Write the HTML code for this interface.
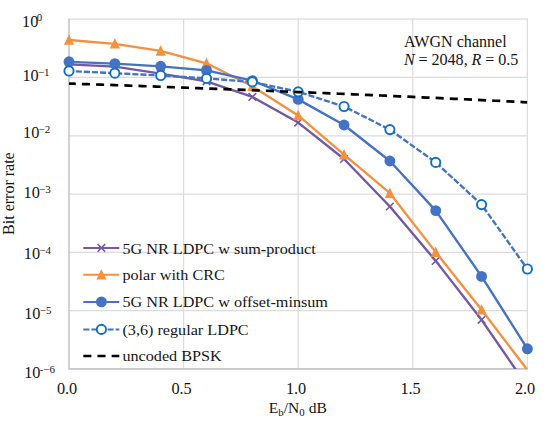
<!DOCTYPE html>
<html><head><meta charset="utf-8"><style>
html,body{margin:0;padding:0;background:#fff;}
svg{display:block;}
svg{font-size:16.3px;}
text{font-family:"Liberation Serif",serif;fill:#151515;}
</style></head><body>
<svg width="550" height="424" viewBox="0 0 550 424">
<defs><clipPath id="clip"><rect x="69" y="19.2" width="458.4" height="349.70"/></clipPath></defs>
<g stroke="#DCDCDC" stroke-width="1.25" fill="none">
<line x1="68.4" y1="19.20" x2="528.0" y2="19.20"/>
<line x1="68.4" y1="77.48" x2="528.0" y2="77.48"/>
<line x1="68.4" y1="135.77" x2="528.0" y2="135.77"/>
<line x1="68.4" y1="194.05" x2="528.0" y2="194.05"/>
<line x1="68.4" y1="252.33" x2="528.0" y2="252.33"/>
<line x1="68.4" y1="310.62" x2="528.0" y2="310.62"/>
<line x1="183.60" y1="18.60" x2="183.60" y2="368.90"/>
<line x1="298.20" y1="18.60" x2="298.20" y2="368.90"/>
<line x1="412.80" y1="18.60" x2="412.80" y2="368.90"/>
<line x1="527.40" y1="18.60" x2="527.40" y2="368.90"/>
</g>
<path d="M69,18.60 V368.90 H528.0" stroke="#C6C6C6" stroke-width="1.6" fill="none"/>
<polyline clip-path="url(#clip)" points="69.00,64.30 114.84,66.60 160.68,73.60 206.52,81.30 252.36,96.90 298.20,122.60 344.04,159.00 389.88,206.50 435.72,260.90 481.56,319.80 527.40,386.50" fill="none" stroke="#7458A6" stroke-width="2.35" stroke-linejoin="round"/>
<path d="M65.20,60.50 L72.80,68.10 M72.80,60.50 L65.20,68.10" stroke="#7458A6" stroke-width="1.6" fill="none"/>
<path d="M111.04,62.80 L118.64,70.40 M118.64,62.80 L111.04,70.40" stroke="#7458A6" stroke-width="1.6" fill="none"/>
<path d="M156.88,69.80 L164.48,77.40 M164.48,69.80 L156.88,77.40" stroke="#7458A6" stroke-width="1.6" fill="none"/>
<path d="M202.72,77.50 L210.32,85.10 M210.32,77.50 L202.72,85.10" stroke="#7458A6" stroke-width="1.6" fill="none"/>
<path d="M248.56,93.10 L256.16,100.70 M256.16,93.10 L248.56,100.70" stroke="#7458A6" stroke-width="1.6" fill="none"/>
<path d="M294.40,118.80 L302.00,126.40 M302.00,118.80 L294.40,126.40" stroke="#7458A6" stroke-width="1.6" fill="none"/>
<path d="M340.24,155.20 L347.84,162.80 M347.84,155.20 L340.24,162.80" stroke="#7458A6" stroke-width="1.6" fill="none"/>
<path d="M386.08,202.70 L393.68,210.30 M393.68,202.70 L386.08,210.30" stroke="#7458A6" stroke-width="1.6" fill="none"/>
<path d="M431.92,257.10 L439.52,264.70 M439.52,257.10 L431.92,264.70" stroke="#7458A6" stroke-width="1.6" fill="none"/>
<path d="M477.76,316.00 L485.36,323.60 M485.36,316.00 L477.76,323.60" stroke="#7458A6" stroke-width="1.6" fill="none"/>
<polyline clip-path="url(#clip)" points="69.00,40.00 114.84,43.80 160.68,50.90 206.52,63.30 252.36,86.30 298.20,115.40 344.04,154.70 389.88,193.20 435.72,252.10 481.56,309.80 527.40,370.00" fill="none" stroke="#F5903E" stroke-width="2.35" stroke-linejoin="round"/>
<path d="M69.00,34.40 L74.10,44.80 L63.90,44.80 Z" fill="#F5903E"/>
<path d="M114.84,38.20 L119.94,48.60 L109.74,48.60 Z" fill="#F5903E"/>
<path d="M160.68,45.30 L165.78,55.70 L155.58,55.70 Z" fill="#F5903E"/>
<path d="M206.52,57.70 L211.62,68.10 L201.42,68.10 Z" fill="#F5903E"/>
<path d="M252.36,80.70 L257.46,91.10 L247.26,91.10 Z" fill="#F5903E"/>
<path d="M298.20,109.80 L303.30,120.20 L293.10,120.20 Z" fill="#F5903E"/>
<path d="M344.04,149.10 L349.14,159.50 L338.94,159.50 Z" fill="#F5903E"/>
<path d="M389.88,187.60 L394.98,198.00 L384.78,198.00 Z" fill="#F5903E"/>
<path d="M435.72,246.50 L440.82,256.90 L430.62,256.90 Z" fill="#F5903E"/>
<path d="M481.56,304.20 L486.66,314.60 L476.46,314.60 Z" fill="#F5903E"/>
<polyline clip-path="url(#clip)" points="69.00,61.80 114.84,63.60 160.68,66.30 206.52,70.40 252.36,80.60 298.20,99.40 344.04,125.00 389.88,161.00 435.72,210.60 481.56,276.40 527.40,348.80" fill="none" stroke="#4472C4" stroke-width="2.35" stroke-linejoin="round"/>
<circle cx="69.00" cy="61.80" r="5.45" fill="#4472C4"/>
<circle cx="114.84" cy="63.60" r="5.45" fill="#4472C4"/>
<circle cx="160.68" cy="66.30" r="5.45" fill="#4472C4"/>
<circle cx="206.52" cy="70.40" r="5.45" fill="#4472C4"/>
<circle cx="252.36" cy="80.60" r="5.45" fill="#4472C4"/>
<circle cx="298.20" cy="99.40" r="5.45" fill="#4472C4"/>
<circle cx="344.04" cy="125.00" r="5.45" fill="#4472C4"/>
<circle cx="389.88" cy="161.00" r="5.45" fill="#4472C4"/>
<circle cx="435.72" cy="210.60" r="5.45" fill="#4472C4"/>
<circle cx="481.56" cy="276.40" r="5.45" fill="#4472C4"/>
<circle cx="527.40" cy="348.80" r="5.45" fill="#4472C4"/>
<polyline clip-path="url(#clip)" points="69.00,71.00 114.84,73.20 160.68,75.50 206.52,78.40 252.36,81.90 298.20,91.80 344.04,106.50 389.88,129.60 435.72,162.40 481.56,204.60 527.40,269.00" fill="none" stroke="#4472C4" stroke-width="2.35" stroke-dasharray="6.07,2.02" stroke-dashoffset="1.3" stroke-linejoin="round"/>
<circle cx="69.00" cy="71.00" r="4.6" fill="#fff" stroke="#0E6FC4" stroke-width="1.9"/>
<circle cx="114.84" cy="73.20" r="4.6" fill="#fff" stroke="#0E6FC4" stroke-width="1.9"/>
<circle cx="160.68" cy="75.50" r="4.6" fill="#fff" stroke="#0E6FC4" stroke-width="1.9"/>
<circle cx="206.52" cy="78.40" r="4.6" fill="#fff" stroke="#0E6FC4" stroke-width="1.9"/>
<circle cx="252.36" cy="81.90" r="4.6" fill="#fff" stroke="#0E6FC4" stroke-width="1.9"/>
<circle cx="298.20" cy="91.80" r="4.6" fill="#fff" stroke="#0E6FC4" stroke-width="1.9"/>
<circle cx="344.04" cy="106.50" r="4.6" fill="#fff" stroke="#0E6FC4" stroke-width="1.9"/>
<circle cx="389.88" cy="129.60" r="4.6" fill="#fff" stroke="#0E6FC4" stroke-width="1.9"/>
<circle cx="435.72" cy="162.40" r="4.6" fill="#fff" stroke="#0E6FC4" stroke-width="1.9"/>
<circle cx="481.56" cy="204.60" r="4.6" fill="#fff" stroke="#0E6FC4" stroke-width="1.9"/>
<circle cx="527.40" cy="269.00" r="4.6" fill="#fff" stroke="#0E6FC4" stroke-width="1.9"/>
<polyline clip-path="url(#clip)" points="69.00,83.56 73.58,83.72 78.17,83.87 82.75,84.03 87.34,84.18 91.92,84.34 96.50,84.50 101.09,84.65 105.67,84.81 110.26,84.97 114.84,85.13 119.42,85.29 124.01,85.45 128.59,85.61 133.18,85.77 137.76,85.94 142.34,86.10 146.93,86.26 151.51,86.43 156.10,86.59 160.68,86.76 165.26,86.92 169.85,87.09 174.43,87.26 179.02,87.43 183.60,87.60 188.18,87.77 192.77,87.94 197.35,88.11 201.94,88.28 206.52,88.45 211.10,88.62 215.69,88.80 220.27,88.97 224.86,89.14 229.44,89.32 234.02,89.50 238.61,89.67 243.19,89.85 247.78,90.03 252.36,90.21 256.94,90.39 261.53,90.57 266.11,90.75 270.70,90.93 275.28,91.11 279.86,91.29 284.45,91.48 289.03,91.66 293.62,91.85 298.20,92.03 302.78,92.22 307.37,92.41 311.95,92.59 316.54,92.78 321.12,92.97 325.70,93.16 330.29,93.35 334.87,93.55 339.46,93.74 344.04,93.93 348.62,94.12 353.21,94.32 357.79,94.51 362.38,94.71 366.96,94.91 371.54,95.11 376.13,95.30 380.71,95.50 385.30,95.70 389.88,95.90 394.46,96.11 399.05,96.31 403.63,96.51 408.22,96.71 412.80,96.92 417.38,97.12 421.97,97.33 426.55,97.54 431.14,97.75 435.72,97.95 440.30,98.16 444.89,98.37 449.47,98.59 454.06,98.80 458.64,99.01 463.22,99.22 467.81,99.44 472.39,99.65 476.98,99.87 481.56,100.09 486.14,100.31 490.73,100.52 495.31,100.74 499.90,100.96 504.48,101.19 509.06,101.41 513.65,101.63 518.23,101.86 522.82,102.08 527.40,102.31" fill="none" stroke="#000" stroke-width="2.7" stroke-dasharray="8.09,6.07" stroke-dashoffset="1.26"/>
<line x1="83.3" y1="247.9" x2="119.3" y2="247.9" stroke="#7458A6" stroke-width="2.0"/><path d="M97.60,244.10 L105.20,251.70 M105.20,244.10 L97.60,251.70" stroke="#7458A6" stroke-width="1.6" fill="none"/>
<line x1="83.3" y1="274.8" x2="119.3" y2="274.8" stroke="#F5903E" stroke-width="2.0"/><path d="M101.40,269.20 L106.50,279.60 L96.30,279.60 Z" fill="#F5903E"/>
<line x1="83.3" y1="301.9" x2="119.3" y2="301.9" stroke="#4472C4" stroke-width="2.0"/><circle cx="101.40" cy="301.90" r="5.45" fill="#4472C4"/>
<line x1="83.3" y1="329.4" x2="119.3" y2="329.4" stroke="#4472C4" stroke-width="2.0" stroke-dasharray="6.07,2.02"/><circle cx="101.40" cy="329.40" r="4.6" fill="#fff" stroke="#0E6FC4" stroke-width="1.9"/>
<line x1="83.3" y1="356.0" x2="119.3" y2="356.0" stroke="#000" stroke-width="2.5" stroke-dasharray="8.09,6.07"/>
<text transform="translate(122.4,253.7) scale(1.066,1)" font-size="15.2">5G NR LDPC w sum-product</text>
<text transform="translate(122.4,280.0) scale(1.066,1)" font-size="15.2">polar with CRC</text>
<text transform="translate(122.4,307.1) scale(1.066,1)" font-size="15.2">5G NR LDPC w offset-minsum</text>
<text transform="translate(122.4,335.4) scale(1.066,1)" font-size="15.2">(3,6) regular LDPC</text>
<text transform="translate(122.4,361.2) scale(1.066,1)" font-size="15.2">uncoded BPSK</text>
<text x="22.0" y="26.8">10<tspan font-size="11" dx="-1.5" dy="-5.6">0</tspan></text>
<text x="22.4" y="80.8">10<tspan font-size="11" dx="-0.8" dy="-5">−1</tspan></text>
<text x="23.1" y="137.7">10<tspan font-size="11" dx="-0.8" dy="-5">−2</tspan></text>
<text x="23.5" y="197.5">10<tspan font-size="11" dx="-0.8" dy="-5">−3</tspan></text>
<text x="23.8" y="258.8">10<tspan font-size="11" dx="-0.8" dy="-5">−4</tspan></text>
<text x="24.2" y="319.0">10<tspan font-size="11" dx="-0.8" dy="-5">−5</tspan></text>
<text x="24.2" y="378.1">10<tspan font-size="11" dx="-0.8" dy="-5">-−6</tspan></text>
<text x="67.1" y="393.8" text-anchor="middle">0.0</text>
<text x="181.6" y="393.8" text-anchor="middle">0.5</text>
<text x="296.1" y="393.8" text-anchor="middle">1.0</text>
<text x="410.6" y="393.8" text-anchor="middle">1.5</text>
<text x="525.1" y="393.8" text-anchor="middle">2.0</text>
<text transform="translate(404,47) scale(1.025,1)" font-size="15.7">AWGN channel</text>
<text transform="translate(404,65.3) scale(1.025,1)" font-size="15.7" word-spacing="-0.15"><tspan font-style="italic">N</tspan> = 2048, <tspan font-style="italic">R</tspan> = 0.5</text>
<text x="268.8" y="413" font-size="15.6">E<tspan font-size="10.8" dy="2.8">b</tspan><tspan dy="-2.8">/N</tspan><tspan font-size="10.8" dy="2.8">0</tspan><tspan dy="-2.8"> dB</tspan></text>
<text transform="translate(14.3,193.6) rotate(-90)" text-anchor="middle" font-size="16">Bit error rate</text>
</svg>
</body></html>
